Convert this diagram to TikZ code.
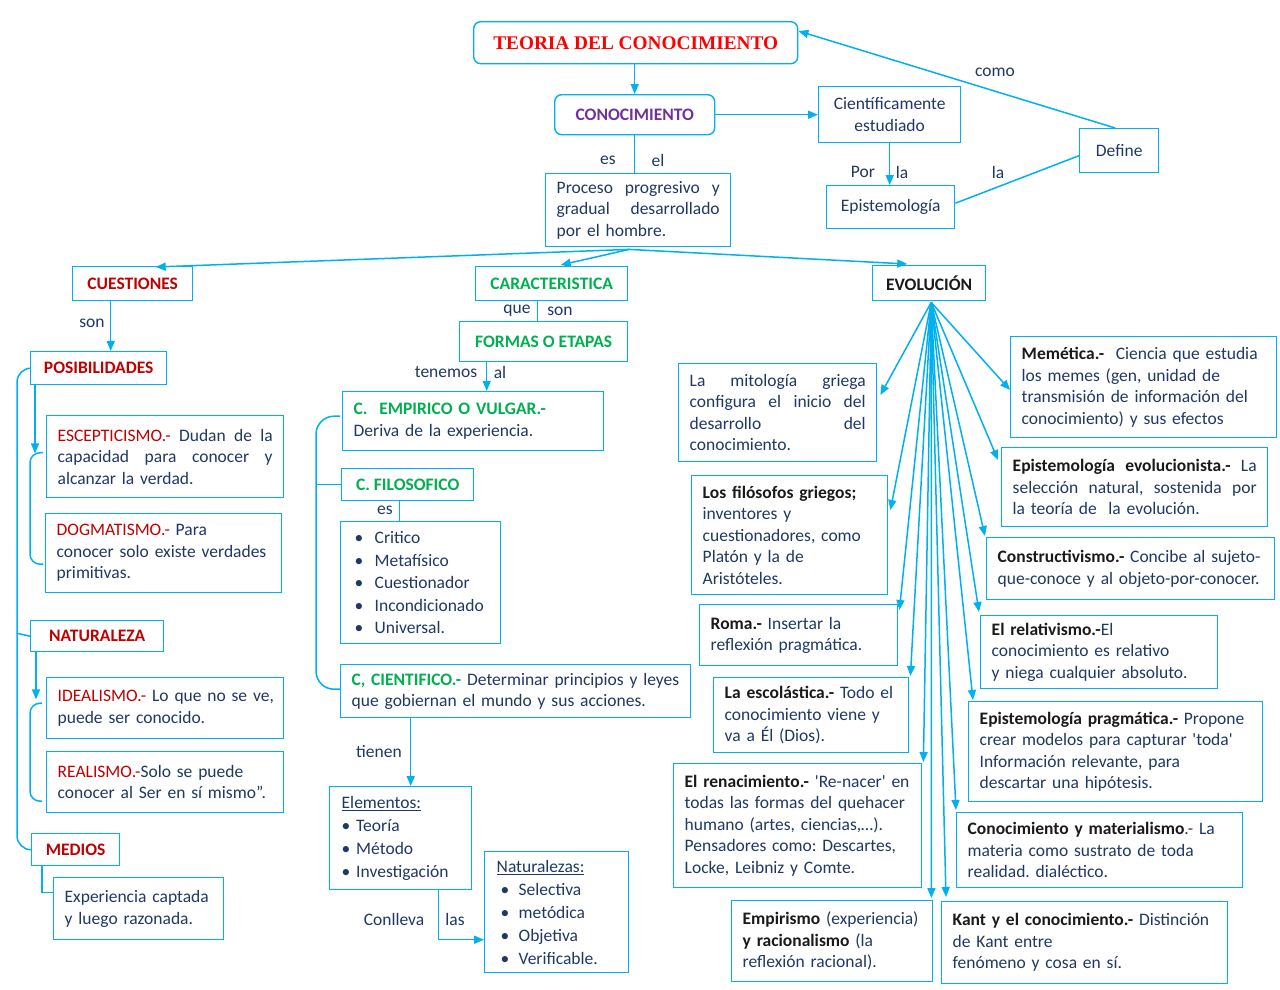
\documentclass[tikz,border=0pt]{standalone}
\usepackage{fontspec}
\setmainfont{Carlito}
\newfontfamily\timesfont{Liberation Serif}
\usetikzlibrary{arrows.meta,calc}
\definecolor{lb}{HTML}{00B0F0}
\definecolor{navy}{HTML}{1F3864}
\definecolor{redd}{HTML}{C00000}
\definecolor{grn}{HTML}{00B050}
\definecolor{purp}{HTML}{7030A0}
\definecolor{blk}{HTML}{1A1A1A}
\definecolor{tred}{HTML}{FF0000}
\frenchspacing
\newcommand\myfs{\fontsize{17.5}{21.5}\selectfont\frenchspacing}
\newcommand\blkb[1]{\textbf{\textcolor{blk}{#1}}}
\newcommand\redt[1]{\textcolor{redd}{#1}}
\newcommand\grnb[1]{\textcolor{grn}{\bfseries #1}}
\newcommand\bli[1]{\hspace*{3pt}\makebox[20pt][l]{\textbullet}#1}
\newcommand\blj[1]{\hspace*{4pt}\makebox[18pt][l]{\textbullet}#1}
\begin{document}
\begin{tikzpicture}[x=1pt,y=-1pt,
 bx/.style={draw=lb, line width=1.4pt, fill=white, inner xsep=11pt, inner ysep=3pt, text=navy, font=\myfs, align=left, anchor=north west},
 cbx/.style={bx, align=center, inner xsep=2pt},
 rbx/.style={cbx, rounded corners=7pt},
 conn/.style={draw=lb, line width=1.5pt},
 arr/.style={conn, -{Triangle[length=10pt,width=8pt]}},
 lbl/.style={font=\myfs, text=navy, inner sep=0pt},
]
\useasboundingbox (0,0) rectangle (1280,989);
\fill[white] (0,0) rectangle (1280,989);

% top
\node[rbx, minimum width=324pt, minimum height=42pt, font=\timesfont\bfseries\fontsize{19.3}{22}\selectfont, text=tred] (title) at (473,21) {TEORIA DEL CONOCIMIENTO};
\node[rbx, minimum width=160pt, minimum height=40pt, font=\myfs\bfseries, text=purp] (cono) at (554,94) {CONOCIMIENTO};
\node[cbx, minimum width=142pt, minimum height=56pt] (cient) at (818,86) {Científicamente\\estudiado};
\node[cbx, minimum width=128pt, minimum height=43pt] (epis) at (826,185) {Epistemología};
\node[cbx, minimum width=79pt, minimum height=44pt] (define) at (1079,128) {Define};
\node[bx, text width=163pt, minimum height=73pt] (proceso) at (545,173) {Proceso\hfill progresivo\hfill y\\gradual\hfill desarrollado\\por el hombre.};

% second row
\node[cbx, minimum width=120pt, minimum height=34pt, font=\myfs\bfseries, text=redd] (cuest) at (72,266) {CUESTIONES};
\node[cbx, minimum width=152pt, minimum height=34pt, font=\myfs\bfseries, text=grn] (carac) at (475,266) {CARACTERISTICA};
\node[cbx, minimum width=113pt, minimum height=35pt, font=\myfs\bfseries, text=blk] (evol) at (872,265) {EVOLUCIÓN};

% left column
\node[cbx, minimum width=136pt, minimum height=33pt, font=\myfs\bfseries, text=redd] (posib) at (30,351) {POSIBILIDADES};
\node[bx, text width=215pt, minimum height=82pt] (escep) at (46,415) {\redt{ESCEPTICISMO.-}\hfill Dudan\hfill de\hfill la\\capacidad\hfill para\hfill conocer\hfill y\\alcanzar la verdad.};
\node[bx, text width=214pt, minimum height=79pt] (dogma) at (45,513) {\redt{DOGMATISMO.-} Para\\conocer solo existe verdades\\primitivas.};
\node[cbx, minimum width=133pt, minimum height=31pt, font=\myfs\bfseries, text=redd] (natur) at (30,620) {NATURALEZA};
\node[bx, inner xsep=8pt, text width=221pt, minimum height=61pt] (ideal) at (46,677) {\hspace*{3pt}\redt{IDEALISMO.-} Lo que no se ve,\\\hspace*{3pt}puede ser conocido.};
\node[bx, text width=215pt, minimum height=61pt] (real) at (46,751) {\redt{REALISMO.-}Solo se puede\\conocer al Ser en sí mismo”.};
\node[cbx, minimum width=88pt, minimum height=32pt, font=\myfs\bfseries, text=redd] (medios) at (31,833) {MEDIOS};
\node[bx, text width=148pt, minimum height=62pt] (exper) at (53,877) {Experiencia captada\\y luego razonada.};

% middle column
\node[cbx, minimum width=168pt, minimum height=40pt, font=\myfs\bfseries, text=grn] (formas) at (459,321) {FORMAS O ETAPAS};
\node[bx, text width=239pt, minimum height=59pt] (empir) at (342,391) {\grnb{C.\ \ EMPIRICO O VULGAR.-}\\Deriva de la experiencia.};
\node[cbx, minimum width=132pt, minimum height=32pt, font=\myfs\bfseries, text=grn] (filos) at (341,468) {C. FILOSOFICO};
\node[bx, text width=138pt, minimum height=122pt, font=\fontsize{17.5}{22.5}\selectfont] (lista) at (340,521) {\bli{Critico}\\\bli{Metafísico}\\\bli{Cuestionador}\\\bli{Incondicionado}\\\bli{Universal.}};
\node[bx, text width=328pt, minimum height=53pt] (cienti) at (340,664) {\grnb{C, CIENTIFICO.-} Determinar principios y leyes\\que gobiernan el mundo y sus acciones.};
\node[bx, text width=118pt, minimum height=103pt, inner xsep=12pt, font=\fontsize{17.5}{23}\selectfont] (elem) at (329,786) {\underline{Elementos:}\\\textbullet\ Teoría\\\textbullet\ Método\\\textbullet\ Investigación};
\node[bx, text width=120pt, minimum height=121pt, inner xsep=12pt, font=\fontsize{17.5}{23}\selectfont] (natz) at (484,851) {\underline{Naturalezas:}\\\blj{Selectiva}\\\blj{metódica}\\\blj{Objetiva}\\\blj{Verificable.}};

% right column
\node[bx, text width=176pt, minimum height=98pt] (mito) at (678,363) {La\hfill mitología\hfill griega\\configura\hfill el\hfill inicio\hfill del\\desarrollo\hfill del\\conocimiento.};
\node[bx, text width=174pt, minimum height=119pt] (filosg) at (691,475) {\blkb{Los filósofos griegos;}\\inventores y\\cuestionadores, como\\Platón y la de\\Aristóteles.};
\node[bx, text width=176pt, minimum height=61pt] (roma) at (699,604) {\blkb{Roma.-} Insertar la\\reflexión pragmática.};
\node[bx, text width=173pt, minimum height=75pt] (escol) at (713,677) {\blkb{La escolástica.-} Todo el\\conocimiento viene y\\va a Él (Dios).};
\node[bx, text width=226pt, minimum height=124pt] (renac) at (673,763) {\blkb{El renacimiento.-} \textquotesingle Re-nacer\textquotesingle\ en\\todas las formas del quehacer\\humano (artes, ciencias,…).\\Pensadores como: Descartes,\\Locke, Leibniz y Comte.};
\node[bx, text width=179pt, minimum height=81pt] (empiri) at (731,900) {\blkb{Empirismo} (experiencia)\\\blkb{y racionalismo} (la\\reflexión racional).};
\node[bx, text width=264pt, minimum height=82pt] (kant) at (941,901) {\blkb{Kant y el conocimiento.-} Distinción\\de Kant entre\\fenómeno y cosa en sí.};
\node[bx, text width=264pt, minimum height=75pt] (mater) at (956,812) {\blkb{Conocimiento y materialismo}.- La\\materia como sustrato de toda\\realidad. dialéctico.};
\node[bx, text width=272pt, minimum height=100pt] (pragm) at (968,701) {\blkb{Epistemología pragmática.-} Propone\\crear modelos para capturar \textquotesingle toda\textquotesingle\\Información relevante, para\\descartar una hipótesis.};
\node[bx, text width=215pt, minimum height=73pt] (relat) at (980,615) {\blkb{El relativismo.-}El\\conocimiento es relativo\\y niega cualquier absoluto.};
\node[bx, text width=266pt, minimum height=62pt] (constr) at (986,537) {\blkb{Constructivismo.-} Concibe al sujeto-\\que-conoce y al objeto-por-conocer.};
\node[bx, text width=244pt, minimum height=79pt] (evolu) at (1001,447) {\blkb{Epistemología\hfill evolucionista.-}\hfill La\\selección\hfill natural,\hfill sostenida\hfill por\\la teoría de\ \ la evolución.};
\node[bx, text width=244pt, minimum height=101pt] (meme) at (1010,336) {\blkb{Memética.-}\ \ Ciencia que estudia\\los memes (gen, unidad de\\transmisión de información del\\conocimiento) y sus efectos};

% labels
\node[lbl] (lcomo) at (995,72) {como};
\node[lbl] (lpor) at (863,172) {Por};
\node[lbl] (lla1) at (902,172) {la};
\node[lbl] (lla2) at (998,172) {la};
\node[lbl] (les) at (608,160) {es};
\node[lbl] (lel) at (658,160) {el};
\node[lbl] (lson) at (92,323) {son};
\node[lbl] (lque) at (517,311) {que};
\node[lbl] (lson2) at (560,311) {son};
\node[lbl] (lten) at (446,372) {tenemos};
\node[lbl] (lal) at (500,372) {al};
\node[lbl] (les2) at (385,510) {es};
\node[lbl] (ltie) at (379,752) {tienen};
\node[lbl] (lcon) at (394,919) {Conlleva};
\node[lbl] (llas) at (455,919) {las};

% top connectors
\draw[arr] (title.south -| cono.north) -- (cono.north);
\draw[arr] (cono.east) -- (cono.east -| cient.west);
\draw[arr] (cient.south) -- (cient.south |- epis.north);
\draw[conn] ($(epis.east)+(0,-4)$) -- ($(define.west)+(0,5)$);
\draw[arr] ($(define.north)+(-4,0)$) -- ($(title.north east)+(0,10)$);
\draw[conn] (cono.south) -- (cono.south |- proceso.north);
\coordinate (pf) at ($(proceso.south)+(-9,2)$);
\draw[arr] (pf) -- ($(cuest.north)+(23,1)$);
\draw[arr] (pf) -- ($(carac.north)+(9,-1)$);
\draw[arr] (pf) -- ($(evol.north)+(-22,-1)$);

% evolution fan
\coordinate (ef) at ($(evol.south)+(2,1)$);
\draw[arr] (ef) -- ($(mito.north east)+(3,32)$);
\draw[arr] (ef) -- ($(filosg.north east)+(2,35)$);
\draw[arr] (ef) -- ($(roma.north east)+(1,6)$);
\draw[arr] (ef) -- ($(escol.north east)+(1,-1)$);
\draw[arr] (ef) -- ($(renac.north east)+(1,-1)$);
\draw[arr] (ef) -- ($(empiri.north east)+(-2,-2)$);
\draw[arr] (ef) -- ($(kant.north west)+(5,-4)$);
\draw[arr] (ef) -- ($(mater.north west)+(0,-2)$);
\draw[arr] (ef) -- ($(pragm.north west)+(5,-1)$);
\draw[arr] (ef) -- ($(relat.north west)+(-1,-3)$);
\draw[arr] (ef) -- ($(constr.north west)+(-1,-1)$);
\draw[arr] (ef) -- ($(evolu.north west)+(-3,13)$);
\draw[arr] (ef) -- ($(meme.north west)+(0,54)$);

% left connectors
\coordinate (c1) at ($(cuest.south)+(-22,0)$);
\draw[arr] (c1) -- (c1 |- posib.north);
\coordinate (p1) at ($(posib.south west)+(5,0)$);
\draw[arr] (p1) -- ($(p1)+(0,68)$);
\draw[conn, rounded corners=10pt] ($(escep.west)+(-3,-4)$) -- ($(escep.west)+(-16,-4)$) -- ($(dogma.west)+(-15,11)$) -- ($(dogma.west)+(-2,11)$);
\draw[conn, rounded corners=14pt] (posib.west) -- ++(-13,0) -- ($(medios.west)+(-14,0)$) -- (medios.west);
\draw[conn] (natur.west) -- ++(-13,-3);
\coordinate (n1) at ($(natur.south west)+(6,0)$);
\draw[arr] (n1) -- ($(n1)+(0,47)$);
\draw[conn, rounded corners=10pt] ($(ideal.west)+(-4,-5)$) -- ($(ideal.west)+(-16,-5)$) -- ($(real.west)+(-16,19)$) -- ($(real.west)+(-4,19)$);
\draw[conn] ($(medios.south west)+(11,0)$) |- ($(exper.west)+(0,-16)$);

% middle connectors
\coordinate (k1) at ($(carac.south)+(-14,0)$);
\draw[conn] (k1) -- (k1 |- formas.north);
\coordinate (f1) at ($(formas.south)+(-57,0)$);
\draw[arr] (f1) -- (f1 |- empir.north);
\draw[conn, rounded corners=18pt] ($(empir.west)+(-2,-5)$) -- ($(empir.west)+(-26,-5)$) -- ($(cienti.west)+(-24,-2)$) -- ($(cienti.west)+(0,-2)$);
\draw[conn] (filos.west) -- ++(-25,0);
\coordinate (fl) at ($(filos.south)+(-8,0)$);
\draw[conn] (fl) -- (fl |- lista.north);
\coordinate (e1) at ($(elem.north)+(10,0)$);
\draw[arr] (e1 |- cienti.south) -- (e1);
\draw[arr] ($(elem.south)+(38,0)$) |- ($(natz.west)+(0,27.5)$);
\end{tikzpicture}
\end{document}
